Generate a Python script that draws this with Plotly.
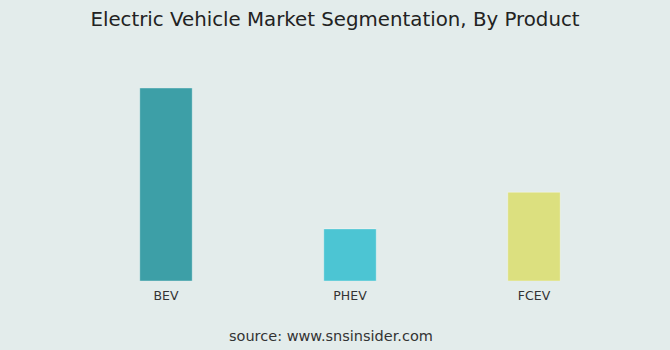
import plotly.graph_objects as go

categories = ["BEV", "PHEV", "FCEV"]
values = [100, 27, 46]
colors = ["#3d9fa7", "#4cc5d3", "#dce07f"]

fig = go.Figure(
    go.Bar(
        x=categories,
        y=values,
        marker=dict(color=colors, line=dict(color="rgba(255,255,255,0.35)", width=1)),
        hoverinfo="x+y",
    )
)

fig.update_layout(
    width=670,
    height=350,
    margin=dict(l=74, r=44, t=88, b=69),
    paper_bgcolor="#e3eceb",
    plot_bgcolor="#e3eceb",
    bargap=0.715,
    showlegend=False,
    title=dict(
        text="Electric Vehicle Market Segmentation, By Product",
        x=0.5,
        xanchor="center",
        y=0.945,
        yanchor="middle",
        font=dict(family="DejaVu Sans, sans-serif", size=19.8, color="#222222"),
    ),
    xaxis=dict(
        showgrid=False,
        zeroline=False,
        showline=False,
        ticks="",
        ticklabelstandoff=5,
        tickfont=dict(family="DejaVu Sans, sans-serif", size=12.5, color="#333333"),
    ),
    yaxis=dict(
        range=[0, 100],
        visible=False,
        showgrid=False,
        zeroline=False,
    ),
    annotations=[
        dict(
            text="source: www.snsinsider.com",
            xref="paper",
            yref="paper",
            x=0.466,
            y=-0.285,
            xanchor="center",
            yanchor="middle",
            showarrow=False,
            font=dict(family="DejaVu Sans, sans-serif", size=14.5, color="#333333"),
        )
    ],
)

fig.write_html("out.html")
